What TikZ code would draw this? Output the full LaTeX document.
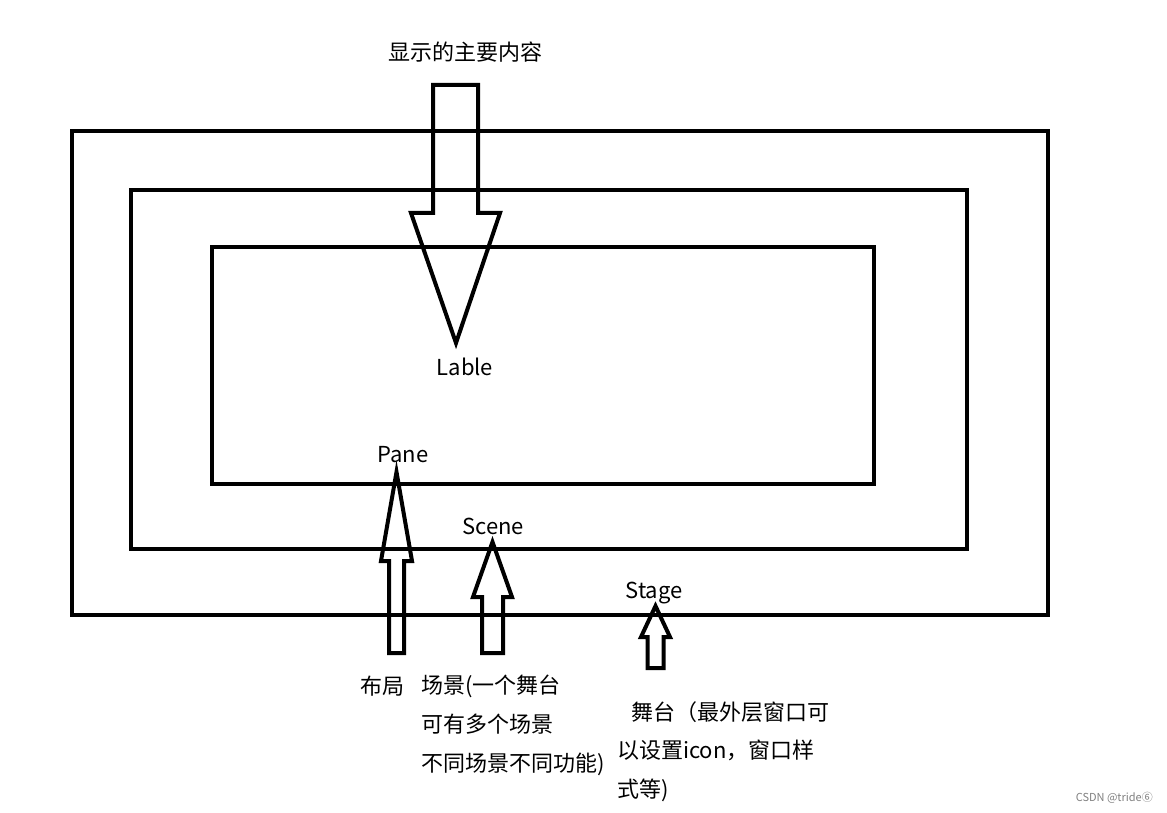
\documentclass[tikz,border=0pt]{standalone}
\usepackage{fontspec}
\setmainfont{Noto Sans CJK SC}
\begin{document}
\begin{tikzpicture}[x=1pt, y=-1pt, line join=miter]
\tikzstyle{frame} = [draw, line width=4pt]
\tikzstyle{hollow} = [draw, line width=4pt, line join=miter]
\tikzstyle{lbl} = [inner sep=0pt, font=\fontsize{22}{26}\selectfont]
\useasboundingbox[fill=white] (0,0) rectangle (1167,813);
  % the three windows
  \draw[frame] (72,131) rectangle (1048,615);
  \draw[frame] (131,190) rectangle (967,549);
  \draw[frame] (212,247) rectangle (874,484);
  % arrow down to the label
  \draw[hollow] (433,85) -- (478,85) -- (478,213) -- (500,213) -- (456,343)
    -- (411,213) -- (433,213) -- cycle;
  % arrows up: name/x/tip/head/end/head half width/shaft half width
  \foreach \n/\x/\t/\h/\e/\hw/\sw in {pane/396.5/472/561/653/15.5/7.5,
      scene/492.5/542/597/653/19.5/10.5, stage/655.5/606/637/668/14.5/8}{
    \draw[hollow] (\x,\t) -- (\x+\hw,\h) -- (\x+\sw,\h) -- (\x+\sw,\e)
      -- (\x-\sw,\e) -- (\x-\sw,\h) -- (\x-\hw,\h) -- cycle;
  }
  \node[lbl] (top) at (465,52) {显示的主要内容};
  \node[lbl] (lable) at (465,367) {Lable};
  \node[lbl] (pane) at (403,455) {Pane};
  \node[lbl] (scene) at (493,526) {Scene};
  \node[lbl] (stage) at (654,593) {Stage};
  \node[lbl] (layout) at (382,686) {布局};
  \node[lbl, anchor=west] (scene1) at (421,686) {场景(一个舞台};
  \node[lbl, anchor=west] (scene2) at (421,724) {可有多个场景};
  \node[lbl, anchor=west] (scene3) at (421,764) {不同场景不同功能)};
  \node[lbl, anchor=west] (stage1) at (631,712) {舞台（最外层窗口可};
  \node[lbl, anchor=west] (stage2) at (617,750) {以设置icon，窗口样};
  \node[lbl, anchor=west] (stage3) at (617,790) {式等)};
  \node[inner sep=0pt, anchor=east, text=gray, font=\fontsize{11}{13}\selectfont]
    (mark) at (1153,798) {CSDN @tride⑥};
\end{tikzpicture}
\end{document}
